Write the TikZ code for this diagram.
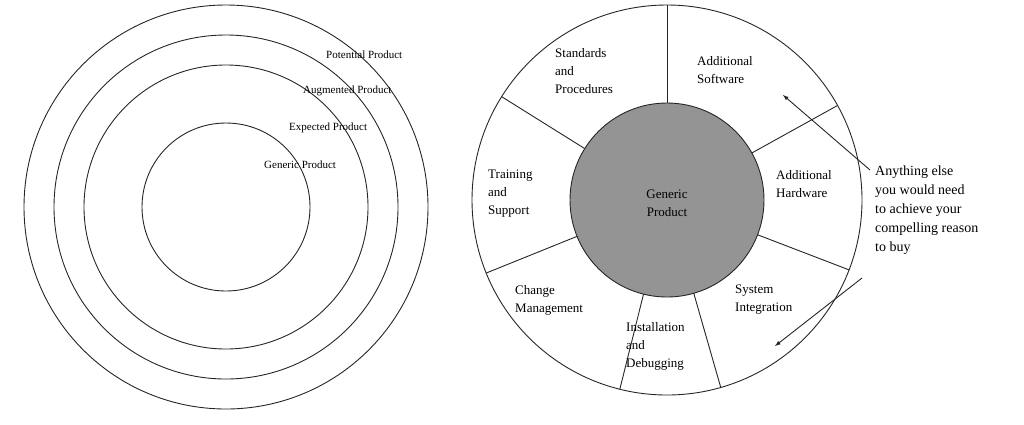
\documentclass[tikz,border=0pt]{standalone}
\usepackage{fontspec}
\setmainfont{Liberation Serif}
\begin{document}
\begin{tikzpicture}[x=1pt,y=-1pt,
  ln/.style={draw=black!85,line width=0.9pt},
  lab/.style={font=\fontsize{11}{11}\selectfont,inner sep=0pt,anchor=west},
  big/.style={font=\fontsize{14}{19}\selectfont,align=left,inner sep=0pt,anchor=north west},
  seg/.style={font=\fontsize{13}{18}\selectfont,align=left,inner sep=0pt,anchor=north west}]
\useasboundingbox (0,0) rectangle (1024,424);
% left
\coordinate (L) at (226,207);
\foreach \r in {202,172,142,84} \draw[ln] (L) circle (\r);
\node[lab] (pp) at (326,55) {Potential Product};
\node[lab] (ap) at (303,91) {Augmented Product};
\node[lab] (ep) at (289,128) {Expected Product};
\node[lab] (gp) at (264,165) {Generic Product};
% right
\coordinate (R) at (667,200);
\draw[ln] (R) circle (195);
\draw[ln,fill=black!42] (R) circle (97);
\foreach \a in {90,29,-21,-74,-104,-158,148}
  \draw[ln] ({667+97*cos(\a)}, {200-97*sin(\a)}) -- ({667+195*cos(\a)}, {200-195*sin(\a)});
\node[font=\fontsize{13}{18}\selectfont,align=center,inner sep=0pt] (g) at (667,203) {Generic\\Product};
\node[seg] (sp) at (555,48) {Standards\\and\\Procedures};
\node[seg] (as) at (697,56) {Additional\\Software};
\node[seg] (ah) at (776,170) {Additional\\Hardware};
\node[seg] (ts) at (488,170) {Training\\and\\Support};
\node[seg] (si) at (735,285) {System\\Integration};
\node[seg] (cm) at (515,285) {Change\\Management};
\node[seg] (id) at (626,322) {Installation\\and\\Debugging};
\node[big] (any) at (875,166) {Anything else\\you would need\\to achieve your\\compelling reason\\to buy};
\coordinate (t1) at (783,95);
\coordinate (t2) at (775,346);
\draw[ln,-latex] (870,170) -- (t1);
\draw[ln,-latex] (862,278) -- (t2);
\end{tikzpicture}
\end{document}
